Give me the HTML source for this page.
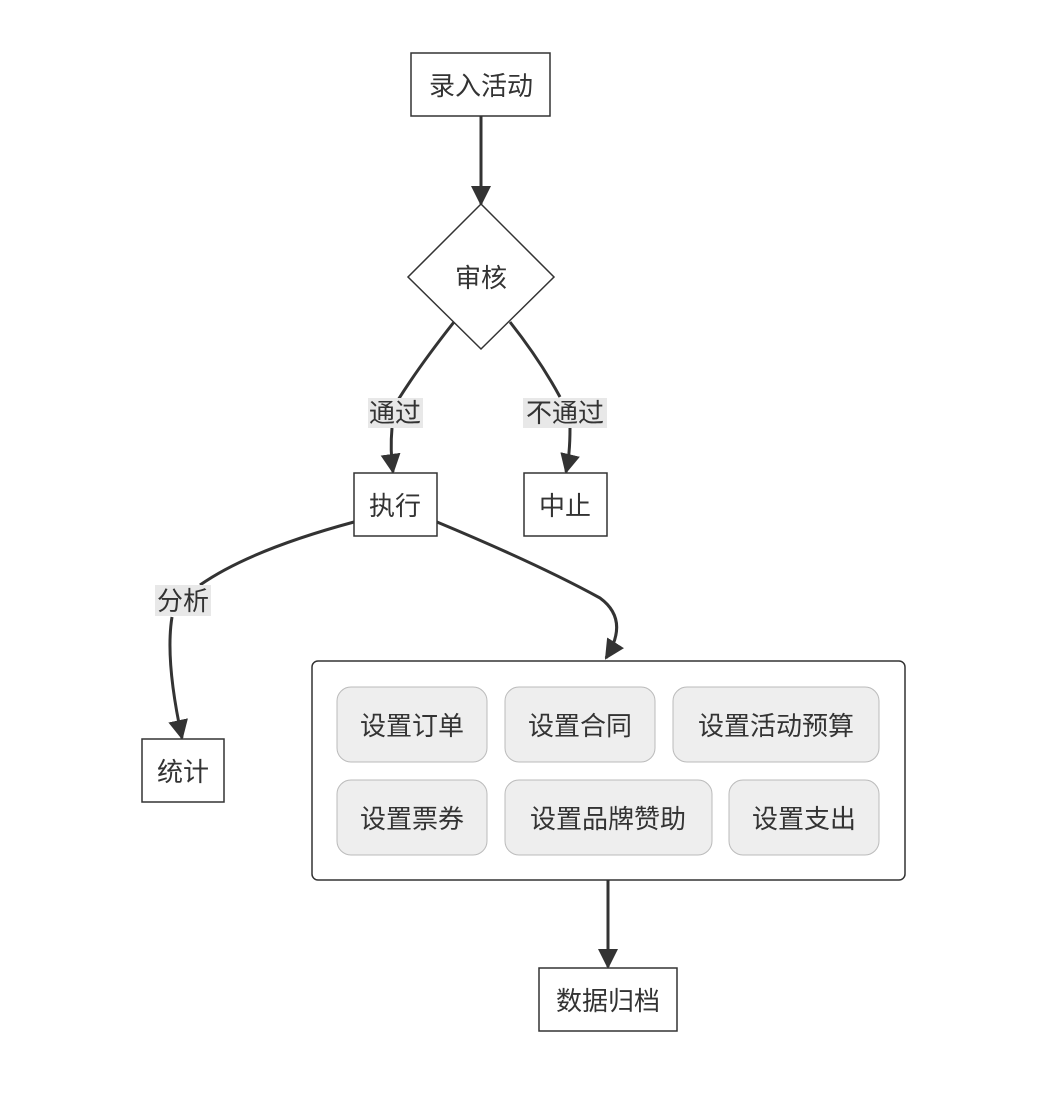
<!DOCTYPE html>
<html><head><meta charset="utf-8"><style>
html,body{margin:0;padding:0;background:#fff;}
text{font-family:"Liberation Sans","Noto Sans CJK SC",sans-serif;font-size:26px;fill:#333;text-anchor:middle;dominant-baseline:central;}
</style></head><body>
<svg width="1046" height="1088" viewBox="0 0 1046 1088" xmlns="http://www.w3.org/2000/svg">
<defs><marker id="a" markerWidth="10" markerHeight="10" refX="9" refY="5" orient="auto" markerUnits="userSpaceOnUse" viewBox="0 0 10 10"><path d="M0,0 L10,5 L0,10 z" fill="#333"/></marker>
<marker id="b" markerWidth="20" markerHeight="20" refX="18" refY="10" orient="auto" markerUnits="userSpaceOnUse" viewBox="0 0 20 20"><path d="M0,0 L20,10 L0,20 z" fill="#333"/></marker></defs>
<g fill="none" stroke="#333" stroke-width="3">
<path d="M481,116 L481,204" marker-end="url(#b)"/>
<path d="M454,322 Q420,365 398,400"/>
<path d="M392,428 Q390,450 393,472" marker-end="url(#b)"/>
<path d="M510,322 Q540,360 560,397"/>
<path d="M570,428 Q570,455 566,472" marker-end="url(#b)"/>
<path d="M354,522 Q250,550 200,585"/>
<path d="M172,617 Q165,660 182,738" marker-end="url(#b)"/>
<path d="M437,522 Q540,565 600,598 Q630,620 606,658" marker-end="url(#b)"/>
<path d="M608,880 L608,967" marker-end="url(#b)"/>
</g>
<g stroke="#333" stroke-width="1.5" fill="#fff">
<rect x="411" y="53" width="139" height="63"/>
<path d="M481,204 L554,277 L481,349 L408,277 Z"/>
<rect x="354" y="473" width="83" height="63"/>
<rect x="524" y="473" width="83" height="63"/>
<rect x="142" y="739" width="82" height="63"/>
<rect x="312" y="661" width="593" height="219" rx="6"/>
<rect x="539" y="968" width="138" height="63"/>
</g>
<g stroke="#bbb" stroke-width="1" fill="#eee">
<rect x="337" y="687" width="150" height="75" rx="14"/>
<rect x="505" y="687" width="150" height="75" rx="14"/>
<rect x="673" y="687" width="206" height="75" rx="14"/>
<rect x="337" y="780" width="150" height="75" rx="14"/>
<rect x="505" y="780" width="207" height="75" rx="14"/>
<rect x="729" y="780" width="150" height="75" rx="14"/>
</g>
<g fill="#e8e8e8">
<rect x="368" y="398" width="55" height="30"/>
<rect x="523" y="398" width="84" height="30"/>
<rect x="155" y="585" width="56" height="31"/>
</g>
<text x="481" y="86">录入活动</text>
<text x="481" y="278">审核</text>
<text x="395" y="413">通过</text>
<text x="565" y="413">不通过</text>
<text x="395" y="506">执行</text>
<text x="565" y="506">中止</text>
<text x="183" y="601">分析</text>
<text x="183" y="772">统计</text>
<text x="412" y="726">设置订单</text>
<text x="580" y="726">设置合同</text>
<text x="776" y="726">设置活动预算</text>
<text x="412" y="819">设置票券</text>
<text x="608" y="819">设置品牌赞助</text>
<text x="804" y="819">设置支出</text>
<text x="608" y="1001">数据归档</text>
</svg>
</body></html>
